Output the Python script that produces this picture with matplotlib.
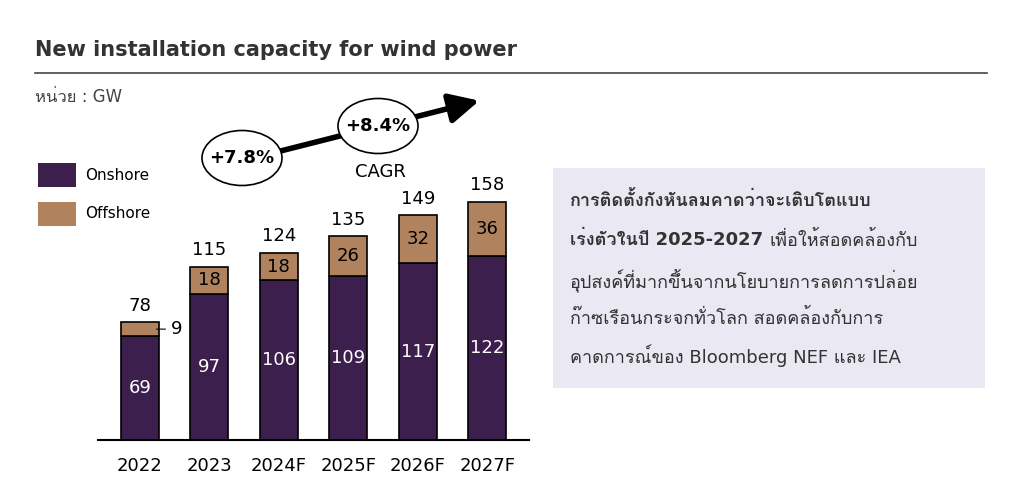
import matplotlib
matplotlib.use("Agg")
import matplotlib.pyplot as plt
from matplotlib import font_manager, ft2font
from matplotlib.patches import Ellipse, Rectangle, FancyArrowPatch

years = ["2022", "2023", "2024F", "2025F", "2026F", "2027F"]
onshore = [69, 97, 106, 109, 117, 122]
offshore = [9, 18, 18, 26, 32, 36]
totals = [78, 115, 124, 135, 149, 158]

purple = "#3d1f4e"
brown = "#b0825e"

# look for any installed family that has Thai glyphs
thai = []
for f in font_manager.fontManager.ttflist:
    try:
        if ord("ก") in ft2font.FT2Font(f.fname).get_charmap() and f.name not in thai:
            thai.append(f.name)
    except Exception:
        pass
fonts = ["DejaVu Sans"] + thai
plt.rcParams["font.family"] = fonts

fig = plt.figure(figsize=(10.24, 5.0), dpi=100)
W, H = 1024, 500

def fx(x): return x / W
def fy(y): return 1 - y / H

# title and rule
fig.text(fx(35), fy(50), "New installation capacity for wind power", fontsize=15,
         fontweight="bold", color="#333333", va="center")
fig.add_artist(plt.Line2D([fx(35), fx(987)], [fy(73), fy(73)], color="#444444", lw=1.2))
fig.text(fx(35), fy(97), "หน่วย : GW", fontsize=12, color="#444444", va="center")

ax = fig.add_axes([fx(98), fy(440), 431 / W, (440 - 176) / H])
x = range(len(years))
ax.bar(x, onshore, width=0.55, color=purple, edgecolor="black", lw=1.2)
ax.bar(x, offshore, bottom=onshore, width=0.55, color=brown, edgecolor="black", lw=1.2)
ax.set_xlim(-0.6, 5.6)
ax.set_ylim(0, 175)
for s in ["top", "right", "left"]:
    ax.spines[s].set_visible(False)
ax.spines["bottom"].set_linewidth(1.5)
ax.set_yticks([])
ax.set_xticks(list(x))
ax.set_xticklabels(years, fontsize=13)
ax.tick_params(axis="x", length=0, pad=12)

for i in x:
    ax.text(i, onshore[i] / 2, str(onshore[i]), ha="center", va="center", color="white", fontsize=13)
    ax.text(i, totals[i] + 5, str(totals[i]), ha="center", va="bottom", fontsize=13)
    if offshore[i] >= 15:
        ax.text(i, onshore[i] + offshore[i] / 2, str(offshore[i]), ha="center", va="center", fontsize=13)
ax.annotate(str(offshore[0]), xy=(0.2, onshore[0] + offshore[0] / 2),
            xytext=(0.45, onshore[0] + offshore[0] / 2), va="center", fontsize=13,
            arrowprops=dict(arrowstyle="-", lw=0.8))

# legend
fig.add_artist(Rectangle((fx(38), fy(187)), 38 / W, 24 / H, facecolor=purple, edgecolor="none"))
fig.text(fx(85), fy(175), "Onshore", fontsize=11, va="center")
fig.add_artist(Rectangle((fx(38), fy(226)), 38 / W, 24 / H, facecolor=brown, edgecolor="none"))
fig.text(fx(85), fy(214), "Offshore", fontsize=11, va="center")

# CAGR arrow and ellipses
fig.add_artist(FancyArrowPatch((fx(245), fy(160)), (fx(482), fy(100)),
                               arrowstyle="-|>,head_length=0.9,head_width=0.45", lw=4,
                               color="black", mutation_scale=20))
fig.add_artist(Ellipse((fx(242), fy(158)), 80 / W, 55 / H, facecolor="white", edgecolor="black", lw=1.2))
fig.text(fx(242), fy(158), "+7.8%", ha="center", va="center", fontsize=13, fontweight="bold")
fig.add_artist(Ellipse((fx(378), fy(126)), 80 / W, 55 / H, facecolor="white", edgecolor="black", lw=1.2))
fig.text(fx(378), fy(126), "+8.4%", ha="center", va="center", fontsize=13, fontweight="bold")
fig.text(fx(380), fy(172), "CAGR", ha="center", va="center", fontsize=13)

# text panel
fig.add_artist(Rectangle((fx(553), fy(388)), (985 - 553) / W, (388 - 168) / H,
                         facecolor="#eae8f2", edgecolor="none"))
lines = [
    ("การติดตั้งกังหันลมคาดว่าจะเติบโตแบบ", True),
    (None, None),
    ("อุปสงค์ที่มากขึ้นจากนโยบายการลดการปล่อย", False),
    ("ก๊าซเรือนกระจกทั่วโลก สอดคล้องกับการ", False),
    ("คาดการณ์ของ Bloomberg NEF และ IEA", False),
]
ys = [200, 240, 280, 318, 356]
for (t, b), yy in zip(lines, ys):
    if t is None:
        tb = fig.text(fx(570), fy(yy), "เร่งตัวในปี 2025-2027 ", fontsize=13, fontweight="bold",
                      color="#333333", va="center")
        fig.canvas.draw()
        bb = tb.get_window_extent()
        fig.text(bb.x1 / W, fy(yy), "เพื่อให้สอดคล้องกับ", fontsize=13, color="#333333", va="center")
    else:
        fig.text(fx(570), fy(yy), t, fontsize=13, fontweight="bold" if b else "normal",
                 color="#333333", va="center")

fig.savefig("out.png", dpi=100)
